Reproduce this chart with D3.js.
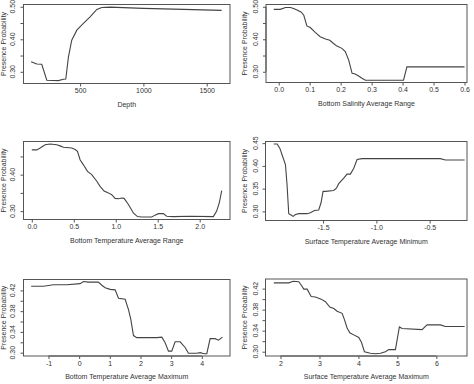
<!DOCTYPE html>
<html><head><meta charset="utf-8">
<script src="https://cdn.jsdelivr.net/npm/d3@7"></script>
<style>
html,body{margin:0;padding:0;background:#fff;}
svg{display:block;}
text{font-family:"Liberation Sans",Arial,sans-serif;fill:#333;}
</style></head><body>
<svg id="chart" width="474" height="384"></svg>
<script>
// ---- Data ----
const depthX = [113,158,197,237,329,368,387,408,434,474,526,579,632,671,737,1000,1316,1618];
const depthY = [0.331,0.324,0.323,0.274,0.273,0.277,0.278,0.346,0.397,0.428,0.449,0.469,0.492,0.498,0.499,0.495,0.492,0.489];

const salX = [-0.016,0.005,0.022,0.038,0.048,0.059,0.072,0.081,0.091,0.102,0.118,0.134,0.151,0.165,0.177,0.188,0.204,0.215,0.226,0.237,0.247,0.258,0.269,0.280,0.403,0.414,0.600];
const salY = [0.492,0.492,0.498,0.498,0.495,0.490,0.484,0.474,0.441,0.436,0.421,0.408,0.401,0.397,0.387,0.379,0.372,0.362,0.336,0.295,0.293,0.287,0.280,0.274,0.274,0.315,0.315];

const btRangeX = [0.0,0.06,0.099,0.159,0.218,0.298,0.337,0.377,0.476,0.516,0.544,0.575,0.615,0.663,0.714,0.774,0.813,0.861,0.913,0.952,0.992,1.032,1.071,1.099,1.151,1.210,1.258,1.31,1.429,1.468,1.508,1.567,1.607,1.687,1.885,2.163,2.202,2.234,2.262];
const btRangeY = [0.468,0.468,0.473,0.482,0.484,0.482,0.479,0.475,0.473,0.469,0.464,0.441,0.427,0.409,0.400,0.382,0.368,0.355,0.350,0.345,0.335,0.334,0.336,0.335,0.318,0.295,0.285,0.284,0.284,0.289,0.293,0.293,0.286,0.285,0.286,0.285,0.300,0.323,0.356];

const stMinX = [-1.963,-1.931,-1.906,-1.884,-1.853,-1.838,-1.822,-1.8,-1.781,-1.759,-1.728,-1.65,-1.619,-1.581,-1.541,-1.519,-1.5,-1.478,-1.4,-1.375,-1.353,-1.306,-1.275,-1.244,-1.212,-1.181,-1.134,-0.994,-0.744,-0.4,-0.353,-0.172];
const stMinY = [0.448,0.448,0.439,0.424,0.403,0.359,0.295,0.292,0.289,0.293,0.295,0.295,0.297,0.302,0.303,0.319,0.344,0.344,0.346,0.351,0.361,0.373,0.382,0.382,0.395,0.414,0.416,0.416,0.416,0.416,0.413,0.413];

const btMaxX = [-1.565,-1.163,-0.837,-0.402,0.033,0.141,0.304,0.63,0.739,0.848,1.011,1.174,1.283,1.5,1.609,1.685,1.772,1.880,2.533,2.696,2.804,2.913,3.02,3.13,3.293,3.457,3.565,3.837,3.946,4.076,4.163,4.272,4.435,4.543,4.674];
const btMaxY = [0.428,0.428,0.431,0.431,0.433,0.437,0.436,0.436,0.430,0.425,0.422,0.421,0.405,0.403,0.383,0.364,0.333,0.329,0.329,0.330,0.319,0.303,0.303,0.321,0.321,0.310,0.299,0.299,0.300,0.298,0.298,0.327,0.327,0.324,0.330];

const stMaxX = [1.829,2.214,2.325,2.47,2.538,2.598,2.684,2.786,2.897,3.043,3.154,3.265,3.368,3.453,3.581,3.641,3.709,3.778,3.880,4.009,4.077,4.154,4.308,4.436,4.564,4.692,4.778,4.949,5.051,5.12,5.632,5.761,6.103,6.231,6.726];
const stMaxY = [0.431,0.431,0.434,0.433,0.426,0.419,0.419,0.405,0.404,0.400,0.395,0.385,0.382,0.377,0.373,0.361,0.345,0.336,0.332,0.327,0.318,0.300,0.297,0.296,0.297,0.300,0.304,0.304,0.347,0.344,0.342,0.351,0.351,0.348,0.348];

// tick values and labels
const xTicks1 = [500,1000,1500];           const xLabels1 = ["500","1000","1500"];
const xTicks2 = [0,0.1,0.2,0.3,0.4,0.5,0.6]; const xLabels2 = ["0.0","0.1","0.2","0.3","0.4","0.5","0.6"];
const xTicks3 = [0,0.5,1,1.5,2];            const xLabels3 = ["0.0","0.5","1.0","1.5","2.0"];
const xTicks4 = [-1.5,-1.0,-0.5];           const xLabels4 = ["-1.5","-1.0","-0.5"];
const xTicks5 = [-1,0,1,2,3,4];             const xLabels5 = ["-1","0","1","2","3","4"];
const xTicks6 = [2,3,4,5,6];                const xLabels6 = ["2","3","4","5","6"];

const yTicksA = [0.30,0.35,0.40,0.45,0.50]; const yLabelsA = ["0.30","","0.40","","0.50"];
const yTicksB = [0.30,0.35,0.40,0.45];      const yLabelsB = ["0.30","","0.40",""];
const yTicksC = [0.30,0.35,0.40,0.45];      const yLabelsC = ["0.30","0.35","0.40","0.45"];
const yTicksD = [0.30,0.32,0.34,0.36,0.38,0.40,0.42]; const yLabelsD = ["0.30","","0.34","","0.38","","0.42"];

const xTitles = ["Depth","Bottom Salinity Average Range","Bottom Temperature Average Range",
                 "Surface Temperature Average Minimum","Bottom Temperature Average Maximum","Surface Temperature Average Maximum"];
const yTitle = "Presence Probability";

// ---- Layout ----
const panels = [
  {x:depthX, y:depthY, xd:[53,1684], yd:[0.264,0.507], box:[23.5,230,4.5,83.5], xt:xTicks1, xl:xLabels1, yt:yTicksA, yl:yLabelsA, ylx:13, ytx:3.8},
  {x:salX, y:salY, xd:[-0.041,0.608], yd:[0.267,0.507], box:[266,467,4.5,82.5], xt:xTicks2, xl:xLabels2, yt:yTicksA, yl:yLabelsA, ylx:256, ytx:244.5},
  {x:btRangeX, y:btRangeY, xd:[-0.099,2.361], yd:[0.277,0.491], box:[23.5,230,141.5,219.5], xt:xTicks3, xl:xLabels3, yt:yTicksB, yl:yLabelsB, ylx:13, ytx:3.8},
  {x:stMinX, y:stMinY, xd:[-2.04,-0.15], yd:[0.280,0.4536], box:[265.5,467,141.5,220.5], xt:xTicks4, xl:xLabels4, yt:yTicksC, yl:yLabelsC, ylx:256, ytx:244.5},
  {x:btMaxX, y:btMaxY, xd:[-1.815,4.92], yd:[0.2936,0.441], box:[23.5,230,279.5,356], xt:xTicks5, xl:xLabels5, yt:yTicksD, yl:yLabelsD, ylx:13, ytx:3.8},
  {x:stMaxX, y:stMaxY, xd:[1.615,6.786], yd:[0.2918,0.4383], box:[265.5,467,279,356], xt:xTicks6, xl:xLabels6, yt:yTicksD, yl:yLabelsD, ylx:256, ytx:244.5}
];

const svg = d3.select("#chart");
const FS = 7;
const stroke = "#444";

panels.forEach((p, i) => {
  const [x0,x1,y0,y1] = p.box;
  const xs = d3.scaleLinear().domain(p.xd).range([x0,x1]);
  const ys = d3.scaleLinear().domain(p.yd).range([y1,y0]);
  const g = svg.append("g");

  // box
  g.append("rect").attr("x",x0).attr("y",y0).attr("width",x1-x0).attr("height",y1-y0)
    .attr("fill","none").attr("stroke","#555").attr("stroke-width",1);

  // x axis
  const xAxis = d3.axisBottom(xs).tickValues(p.xt).tickSize(3).tickPadding(2)
    .tickFormat((d,k)=>p.xl[k]);
  const gx = g.append("g").attr("transform",`translate(0,${y1})`).call(xAxis);
  gx.select(".domain").attr("stroke","#555").attr("d",`M${xs(p.xt[0])},0H${xs(p.xt[p.xt.length-1])}`);
  gx.selectAll(".tick line").attr("stroke","#555");
  gx.selectAll(".tick text").attr("font-size",FS).attr("fill","#333").attr("font-family","Liberation Sans, Arial, sans-serif");

  // y axis
  const yAxis = d3.axisLeft(ys).tickValues(p.yt).tickSize(3).tickFormat(()=> "");
  const gy = g.append("g").attr("transform",`translate(${x0},0)`).call(yAxis);
  gy.select(".domain").attr("stroke","#555").attr("d",`M0,${ys(p.yt[0])}V${ys(p.yt[p.yt.length-1])}`);
  gy.selectAll(".tick line").attr("stroke","#555");
  p.yt.forEach((v,k)=>{
    if(!p.yl[k]) return;
    g.append("text").attr("transform",`translate(${p.ylx},${ys(v)}) rotate(-90)`)
      .attr("text-anchor","middle").attr("dy","0.35em").attr("font-size",FS).text(p.yl[k]);
  });

  // titles
  g.append("text").attr("x",(x0+x1)/2).attr("y",y1+23).attr("text-anchor","middle")
    .attr("font-size",FS).text(xTitles[i]);
  g.append("text").attr("transform",`translate(${p.ytx},${(y0+y1)/2}) rotate(-90)`)
    .attr("text-anchor","middle").attr("dy","0.35em").attr("font-size",FS).text(yTitle);

  // line
  const pts = p.x.map((v,k)=>[v,p.y[k]]);
  g.append("path").datum(pts)
    .attr("d", d3.line().x(d=>xs(d[0])).y(d=>ys(d[1])))
    .attr("fill","none").attr("stroke",stroke).attr("stroke-width",1.1);
});
</script>
</body></html>
